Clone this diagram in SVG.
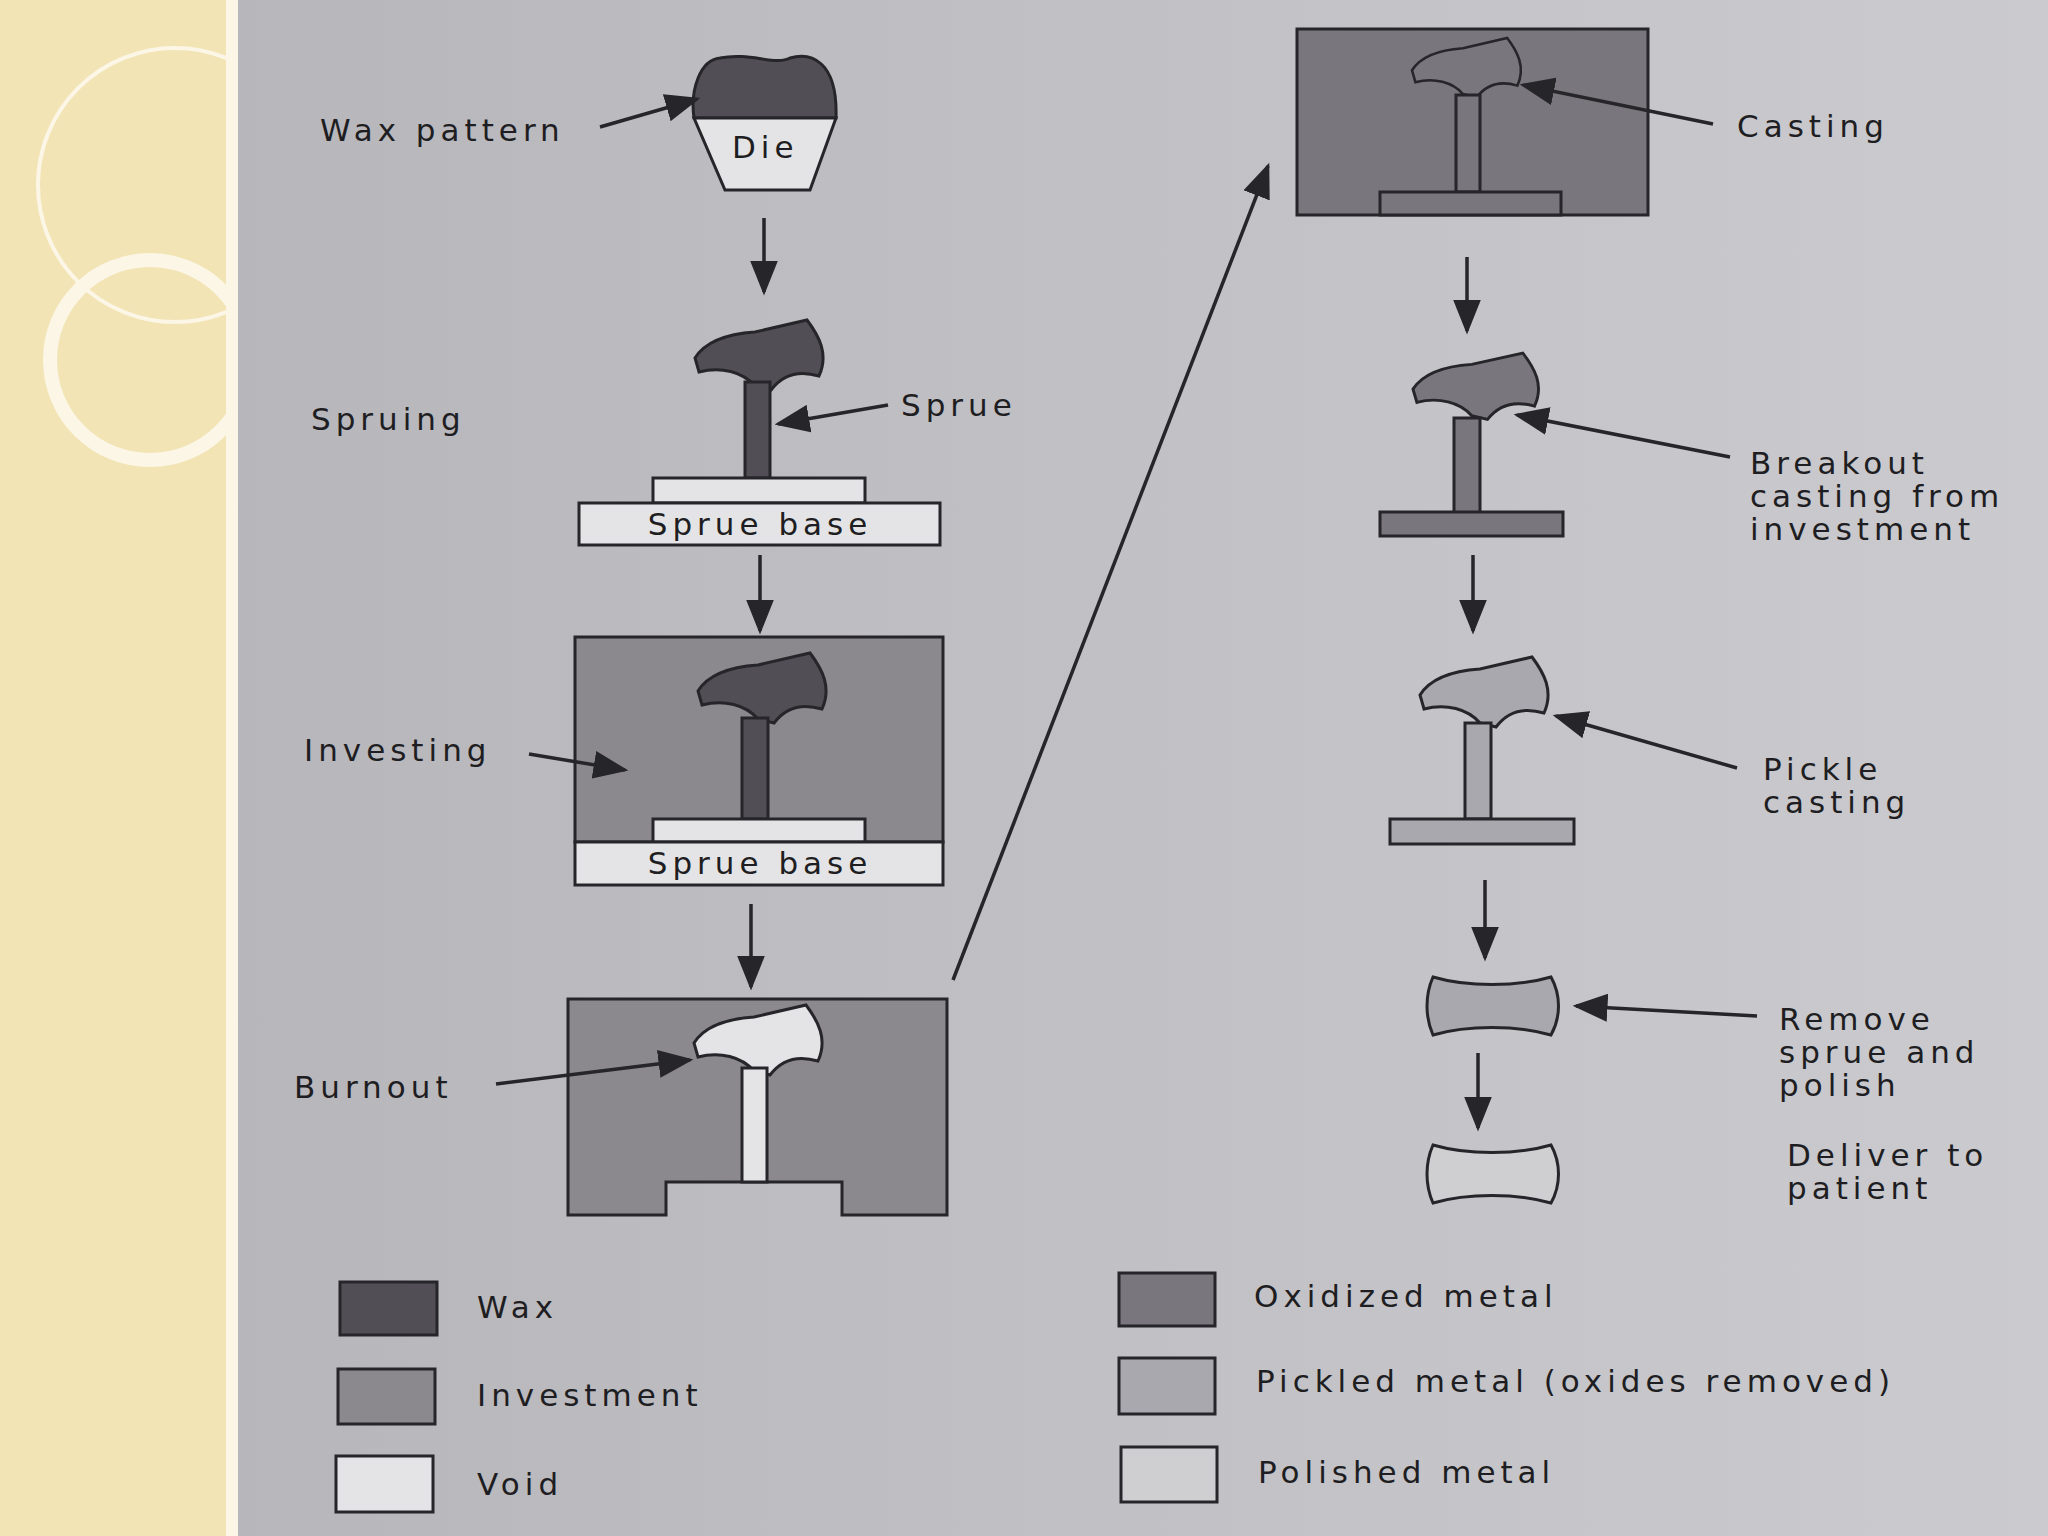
<svg xmlns="http://www.w3.org/2000/svg" width="2048" height="1536" viewBox="0 0 2048 1536">
<style>
text{font-family:"DejaVu Sans","Liberation Sans",sans-serif;font-size:31px;letter-spacing:5px;fill:#1e1e22}
.o{stroke:#26252a;stroke-width:3}
.wax{fill:#524e56}.inv{fill:#8b888e}.void{fill:#e4e4e6}.oxi{fill:#79767d}.pick{fill:#a9a8ae}.pol{fill:#cfcfd2}
.ar{stroke:#26252a;stroke-width:3.5;fill:none;marker-end:url(#ah)}
</style>
<defs>
<marker id="ah" markerWidth="10" markerHeight="8" refX="9" refY="4" orient="auto" markerUnits="strokeWidth"><path d="M0,0 L10,4 L0,8 Z" fill="#26252a"/></marker>
<path id="crown" d="M0,38 C10,22 30,14 60,12 L112,0 C124,16 134,34 124,56 C104,50 88,54 76,70 L60,66 C48,52 26,46 4,52 Z"/>
<path id="piece" d="M6,0 C40,10 90,10 124,0 C134,18 134,40 124,58 C90,48 40,48 6,58 C-2,40 -2,18 6,0 Z"/>
<linearGradient id="bg" x1="0" x2="1" y1="0" y2="0">
<stop offset="0" stop-color="#b4b3b8"/><stop offset="0.45" stop-color="#bfbec3"/><stop offset="1" stop-color="#cacacf"/>
</linearGradient>
<clipPath id="pc"><rect x="0" y="0" width="228" height="1536"/></clipPath>
</defs>
<rect width="2048" height="1536" fill="url(#bg)"/>
<rect x="0" y="0" width="228" height="1536" fill="#f3e4b6"/>
<rect x="226" y="0" width="12" height="1536" fill="#fbf6e6"/>
<g clip-path="url(#pc)">
<circle cx="175" cy="185" r="137" fill="none" stroke="#fbf6e6" stroke-width="4"/>
<circle cx="150" cy="360" r="100" fill="none" stroke="#fbf6e6" stroke-width="14"/>
</g>

<g id="die">
<path class="o wax" d="M694,118 C690,90 700,60 720,58 C750,52 775,66 790,58 C810,52 838,60 836,118 Z"/>
<path class="o" fill="#e4e4e6" d="M694,118 L836,118 L810,190 L725,190 Z"/>
<text x="732" y="158" font-size="28" letter-spacing="3">Die</text>
<text x="320" y="141">Wax pattern</text>
</g>
<g id="spruing">
<use href="#crown" class="o wax" transform="translate(695,320)"/>
<rect class="o wax" x="745" y="382" width="25" height="96"/>
<rect class="o void" x="653" y="478" width="212" height="25"/>
<rect class="o void" x="579" y="503" width="361" height="42"/>
<text x="760" y="535" text-anchor="middle">Sprue base</text>
<text x="311" y="430">Spruing</text>
<text x="901" y="416">Sprue</text>
</g>
<g id="investing">
<rect class="o inv" x="575" y="637" width="368" height="205"/>
<use href="#crown" class="o wax" transform="translate(698,653)"/>
<rect class="o wax" x="742" y="718" width="26" height="101"/>
<rect class="o void" x="653" y="819" width="212" height="23"/>
<rect class="o void" x="575" y="842" width="368" height="43"/>
<text x="760" y="874" text-anchor="middle">Sprue base</text>
<text x="304" y="761">Investing</text>
</g>
<g id="burnout">
<path class="o inv" d="M568,999 L947,999 L947,1215 L842,1215 L842,1182 L666,1182 L666,1215 L568,1215 Z"/>
<use href="#crown" class="o void" transform="translate(694,1005)"/>
<rect class="o void" x="742" y="1068" width="25" height="114"/>
<text x="294" y="1098">Burnout</text>
</g>
<g id="casting">
<rect class="o oxi" x="1297" y="29" width="351" height="186"/>
<use href="#crown" class="o oxi" transform="translate(1412,38) scale(0.85)"/>
<rect class="o oxi" x="1456" y="95" width="24" height="97"/>
<rect class="o oxi" x="1380" y="192" width="181" height="23"/>
<text x="1737" y="137">Casting</text>
</g>
<g id="breakout">
<use href="#crown" class="o oxi" transform="translate(1413,353) scale(0.98,0.95)"/>
<rect class="o oxi" x="1454" y="418" width="26" height="96"/>
<rect class="o oxi" x="1380" y="512" width="183" height="24"/>
<text x="1750" y="474">Breakout</text>
<text x="1750" y="507">casting from</text>
<text x="1750" y="540">investment</text>
</g>
<g id="pickle">
<use href="#crown" class="o pick" transform="translate(1420,657)"/>
<rect class="o pick" x="1465" y="723" width="26" height="96"/>
<rect class="o pick" x="1390" y="819" width="184" height="25"/>
<text x="1763" y="780">Pickle</text>
<text x="1763" y="813">casting</text>
</g>
<g id="polish">
<use href="#piece" class="o pick" transform="translate(1427,977)"/>
<text x="1779" y="1030">Remove</text>
<text x="1779" y="1063">sprue and</text>
<text x="1779" y="1096">polish</text>
</g>
<g id="deliver">
<use href="#piece" class="o pol" transform="translate(1427,1145)"/>
<text x="1787" y="1166">Deliver to</text>
<text x="1787" y="1199">patient</text>
</g>
<g id="connectors">
<line class="ar" x1="600" y1="127" x2="697" y2="99"/>
<line class="ar" x1="764" y1="218" x2="764" y2="292"/>
<line class="ar" x1="888" y1="405" x2="778" y2="424"/>
<line class="ar" x1="760" y1="555" x2="760" y2="631"/>
<line class="ar" x1="529" y1="754" x2="625" y2="770"/>
<line class="ar" x1="751" y1="904" x2="751" y2="987"/>
<line class="ar" x1="496" y1="1084" x2="690" y2="1060"/>
<line class="ar" x1="953" y1="980" x2="1268" y2="166"/>
<line class="ar" x1="1713" y1="124" x2="1523" y2="85"/>
<line class="ar" x1="1467" y1="257" x2="1467" y2="331"/>
<line class="ar" x1="1730" y1="457" x2="1517" y2="415"/>
<line class="ar" x1="1473" y1="555" x2="1473" y2="631"/>
<line class="ar" x1="1737" y1="768" x2="1556" y2="716"/>
<line class="ar" x1="1485" y1="880" x2="1485" y2="958"/>
<line class="ar" x1="1757" y1="1016" x2="1576" y2="1006"/>
<line class="ar" x1="1478" y1="1053" x2="1478" y2="1128"/>
</g>
<g id="legend">
<rect class="o wax" x="340" y="1282" width="97" height="53"/>
<text x="477" y="1318">Wax</text>
<rect class="o inv" x="338" y="1369" width="97" height="55"/>
<text x="477" y="1406">Investment</text>
<rect class="o void" x="336" y="1456" width="97" height="56"/>
<text x="477" y="1495">Void</text>
<rect class="o oxi" x="1119" y="1273" width="96" height="53"/>
<text x="1254" y="1307">Oxidized metal</text>
<rect class="o pick" x="1119" y="1358" width="96" height="56"/>
<text x="1256" y="1392">Pickled metal (oxides removed)</text>
<rect class="o pol" x="1121" y="1447" width="96" height="55"/>
<text x="1258" y="1483">Polished metal</text>
</g>
</svg>
